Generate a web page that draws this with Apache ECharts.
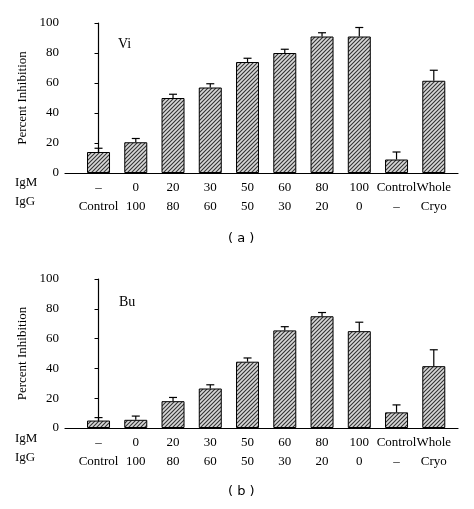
<!DOCTYPE html>
<html><head><meta charset="utf-8">
<script src="https://cdn.jsdelivr.net/npm/echarts@6/dist/echarts.min.js"></script>
<style>html,body{margin:0;background:#fff}#c{width:474px;height:509px}</style>
</head><body><div id="c"></div>
<script>
const igmLabels = ['\u2013','0','20','30','50','60','80','100','Control','Whole'];
const iggLabels = ['Control','100','80','60','50','30','20','0','\u2013','Cryo'];
const viValues = [14,20.5,50,57,74,80,91,91,9,61.5];
const viErrors = [2.5,2.5,2.5,2.5,2.5,2.5,2.5,6,5,7];
const buValues = [5,5.5,18,26.5,44.5,65.5,75,65,10.5,41.5];
const buErrors = [2,2.5,2.5,2.5,2.5,2.5,2.5,6,5,11];
const yTicks = [0,20,40,60,80,100];

const pc = document.createElement('canvas');
pc.width = 4; pc.height = 4;
const g = pc.getContext('2d');
g.fillStyle = '#d8d8d8'; g.fillRect(0,0,4,4);
g.strokeStyle = '#333'; g.lineWidth = 1.1;
g.beginPath(); g.moveTo(0,4); g.lineTo(4,0); g.moveTo(-1,1); g.lineTo(1,-1); g.moveTo(3,5); g.lineTo(5,3); g.stroke();
const hatch = {image: pc, repeat: 'repeat'};

const serif = 'Liberation Serif';
const chart = echarts.init(document.getElementById('c'));
const tops = [23, 279];
function xAx(i){return {type:'value',gridIndex:i,min:-0.9,max:9.65,
  axisLine:{onZero:false,lineStyle:{color:'#000',width:1.2}},axisTick:{show:false},splitLine:{show:false},
  axisLabel:{customValues:[0,1,2,3,4,5,6,7,8,9],color:'#000',fontFamily:serif,fontSize:13,lineHeight:19,margin:5,
    formatter:v=>igmLabels[Math.round(v)]+'\n'+iggLabels[Math.round(v)]}};}
function yAx(i){return {type:'value',gridIndex:i,min:0,max:100,interval:20,
  name:'Percent Inhibition',nameLocation:'middle',nameGap:34,nameTextStyle:{color:'#000',fontFamily:serif,fontSize:13},
  axisLine:{show:true,lineStyle:{color:'#000',width:1.2}},axisTick:{show:true,length:4,lineStyle:{color:'#000'}},
  splitLine:{show:false},axisLabel:{color:'#000',fontFamily:serif,fontSize:13,margin:6}};}
function bars(i,vals){return {type:'bar',xAxisIndex:i,yAxisIndex:i,barWidth:23,
  data:vals.map((v,k)=>[k,v]),itemStyle:{color:hatch,borderColor:'#000',borderWidth:1}};}
function errs(i,vals,es){return {type:'custom',xAxisIndex:i,yAxisIndex:i,z:5,
  data:vals.map((v,k)=>[k,v,es[k]]),
  renderItem:(p,api)=>{const x=api.value(0),y=api.value(1),e=api.value(2);
    const a=api.coord([x,y]),b=api.coord([x,y+e]);
    return {type:'group',children:[
      {type:'line',shape:{x1:a[0],y1:a[1],x2:b[0],y2:b[1]},style:{stroke:'#000',lineWidth:1.2}},
      {type:'line',shape:{x1:b[0]-4,y1:b[1],x2:b[0]+4,y2:b[1]},style:{stroke:'#000',lineWidth:1.2}}]};}};}
function txt(l,t,s,f,fs){return {type:'text',left:l,top:t,style:{text:s,fill:'#000',font:fs+'px "'+f+'"'}};}
chart.setOption({
  animation:false,
  grid:[{left:65,right:16,top:tops[0],height:150},{left:65,right:16,top:tops[1],height:149}],
  xAxis:[xAx(0),xAx(1)], yAxis:[yAx(0),yAx(1)],
  series:[bars(0,viValues),errs(0,viValues,viErrors),bars(1,buValues),errs(1,buValues,buErrors)],
  graphic:[
    txt(118,37,'Vi',serif,14), txt(119,295,'Bu',serif,14),
    txt(15,176,'IgM',serif,13), txt(15,195,'IgG',serif,13),
    txt(15,432,'IgM',serif,13), txt(15,451,'IgG',serif,13),
    txt(228,232,'( a )','DejaVu Sans',13), txt(228,485,'( b )','DejaVu Sans',13)
  ]
});
</script></body></html>
